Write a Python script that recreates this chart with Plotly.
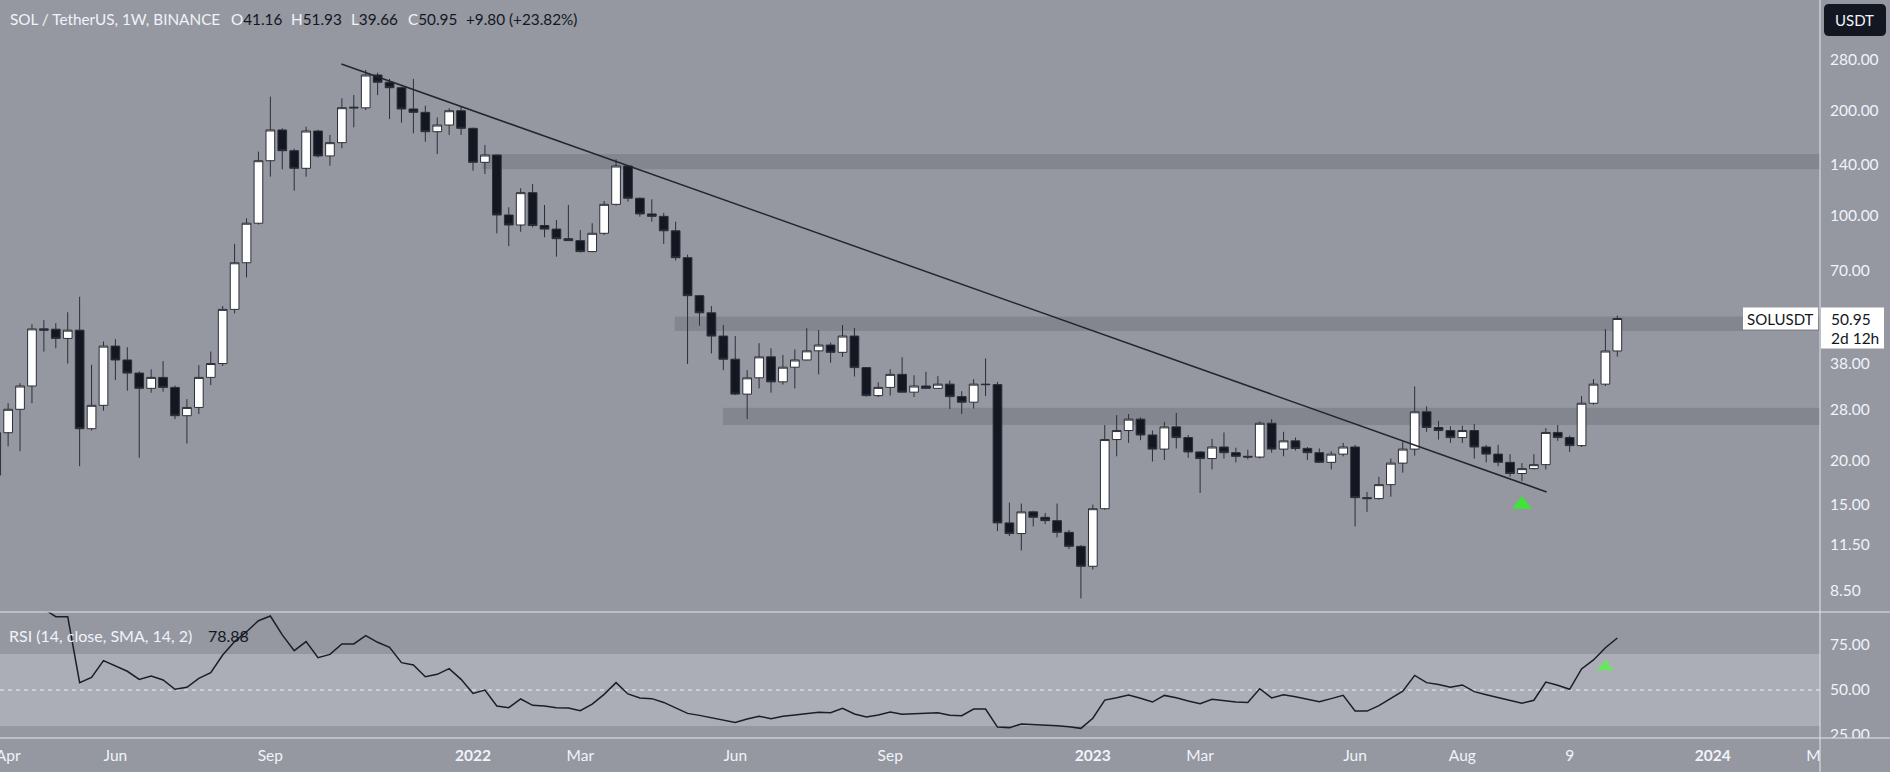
import math
import pandas as pd
import plotly.graph_objects as go

# ---------------- data ----------------
first_week = "2021-03-29"          # weekly candles, Monday starts

opens = [18.2, 24.06, 28.06, 32.7, 47.6, 47.5, 44.7, 47.2, 24.7, 28.8,
         42.5, 38.8, 35.6, 32.2, 34.6, 32.4, 26.9, 28.4, 34.6, 37.9,
         54.1, 73.5, 95.3, 143.7, 175.9, 153.5, 136.7, 174.7, 148.3, 161.8,
         204.3, 203.4, 252.4, 240.6, 232.2, 201.9, 197.5, 173.9, 181.7, 199.6,
         177.8, 142.2, 149.2, 100.6, 94.2, 116.5, 93.9, 91.7, 86.1, 85.0,
         79.1, 89.2, 107.9, 138.8, 112.3, 101.3, 99.7, 90.7, 76.0, 59.2,
         52.9, 45.4, 39.0, 31.0, 34.5, 39.6, 33.6, 37.0, 38.8, 41.2,
         42.8, 40.8, 45.4, 36.9, 30.7, 32.4, 35.3, 31.4, 32.7, 32.2,
         33.1, 30.5, 29.4, 33.1, 33.0, 13.3, 12.4, 14.3, 13.8, 13.5,
         12.5, 11.4, 10.0, 14.6, 23.0, 24.4, 26.3, 23.7, 21.6, 25.0,
         23.3, 21.2, 20.3, 21.9, 21.1, 20.6, 20.5, 25.6, 21.6, 22.8,
         21.7, 21.1, 19.8, 20.9, 21.9, 15.7, 15.6, 17.1, 19.7, 21.6,
         27.6, 24.9, 24.4, 23.3, 24.4, 21.9, 20.9, 19.8, 18.4, 19.0,
         19.5, 24.1, 23.3, 22.1, 29.2, 33.1, 41.16]

highs = [24.8, 29.2, 33.3, 49.1, 50.4, 49.4, 53.1, 58.8, 37.6, 43.8,
         44.5, 42.2, 36.0, 36.5, 38.5, 32.8, 30.0, 37.5, 41.0, 55.3,
         83.2, 98.4, 152.5, 218.9, 177.8, 155.5, 179.7, 176.0, 170.2, 216.6,
         221.3, 260.9, 256.3, 246.0, 234.0, 245.9, 206.3, 191.1, 202.8, 205.0,
         178.7, 159.3, 149.5, 105.8, 119.9, 123.3, 107.4, 97.3, 107.4, 91.1,
         95.3, 110.3, 145.1, 139.5, 113.0, 111.5, 102.0, 96.3, 77.5, 59.5,
         55.3, 48.8, 45.4, 36.3, 43.3, 41.9, 40.1, 41.6, 47.8, 47.2,
         43.5, 48.8, 47.9, 37.0, 33.5, 36.5, 39.5, 35.1, 35.9, 34.9,
         33.9, 31.6, 34.2, 39.2, 33.6, 15.2, 15.1, 14.4, 14.2, 15.1,
         12.7, 11.5, 15.0, 25.3, 27.0, 27.2, 26.6, 24.4, 25.8, 27.4,
         23.7, 21.3, 23.1, 24.1, 21.8, 21.5, 25.9, 26.3, 24.2, 23.3,
         21.9, 21.7, 21.3, 22.5, 22.2, 16.3, 18.0, 20.3, 22.7, 32.6,
         28.6, 26.0, 25.1, 25.2, 25.5, 22.2, 22.2, 20.9, 19.7, 20.9,
         24.8, 25.3, 23.6, 30.6, 34.2, 47.5, 51.93]

lows = [17.6, 22.0, 21.3, 29.2, 41.0, 41.9, 37.9, 19.3, 24.4, 27.8,
        34.0, 31.7, 20.4, 31.3, 31.5, 26.3, 22.4, 27.2, 32.9, 37.3,
        52.7, 66.8, 94.5, 129.4, 135.8, 118.0, 129.4, 146.7, 139.1, 156.0,
        179.0, 200.5, 221.3, 189.0, 184.5, 172.1, 162.8, 150.2, 170.2, 170.2,
        134.6, 131.7, 89.2, 82.0, 90.1, 92.8, 86.9, 76.5, 84.8, 78.6,
        78.8, 88.2, 107.0, 109.8, 99.5, 96.3, 83.2, 74.6, 37.8, 48.6,
        40.5, 36.3, 30.8, 26.3, 32.2, 31.3, 33.0, 32.2, 38.7, 35.3,
        38.1, 39.6, 34.8, 30.5, 30.4, 30.7, 31.3, 30.4, 32.1, 32.1,
        28.1, 27.2, 28.2, 30.6, 12.6, 12.2, 11.1, 13.0, 13.2, 12.1,
        11.2, 8.1, 9.8, 14.5, 20.6, 22.5, 22.9, 19.9, 20.1, 21.7,
        20.4, 16.2, 18.9, 20.3, 19.8, 20.2, 20.3, 21.1, 20.6, 21.4,
        20.1, 19.7, 18.9, 20.6, 13.0, 14.3, 15.5, 15.8, 18.5, 20.7,
        24.2, 23.0, 22.5, 22.5, 20.3, 19.8, 19.3, 18.0, 17.5, 18.9,
        18.9, 22.8, 21.2, 21.9, 28.9, 32.7, 39.66]

closes = [24.06, 28.06, 32.7, 47.6, 47.2, 44.7, 47.2, 24.7, 28.8, 42.5,
          38.8, 35.6, 32.2, 34.6, 32.4, 26.9, 28.4, 34.6, 37.9, 54.1,
          73.5, 95.3, 143.7, 175.9, 153.5, 136.7, 174.7, 148.3, 161.8, 203.6,
          203.4, 252.4, 240.6, 232.2, 201.9, 197.5, 173.9, 181.7, 199.6, 177.8,
          142.2, 149.2, 100.6, 94.2, 116.5, 93.9, 91.7, 86.1, 85.0, 79.1,
          89.2, 107.9, 138.8, 112.3, 101.3, 99.7, 90.7, 76.0, 59.2, 52.9,
          45.4, 39.0, 31.0, 34.5, 39.6, 33.6, 37.0, 38.8, 41.2, 42.8,
          40.8, 45.4, 36.9, 30.7, 32.4, 35.3, 31.4, 32.7, 32.2, 33.1,
          30.5, 29.4, 33.1, 33.0, 13.3, 12.4, 14.3, 13.8, 13.5, 12.5,
          11.4, 10.0, 14.6, 23.0, 24.4, 26.3, 23.7, 21.6, 25.0, 23.3,
          21.2, 20.3, 21.9, 21.1, 20.6, 20.5, 25.6, 21.6, 22.8, 21.7,
          21.1, 19.8, 20.9, 21.9, 15.7, 15.6, 17.1, 19.7, 21.6, 27.6,
          24.9, 24.4, 23.3, 24.4, 21.9, 20.9, 19.8, 18.4, 19.0, 19.5,
          24.1, 23.3, 22.1, 29.2, 33.1, 41.15, 50.95]

rsi = [98, 98, 98, 97, 95, 90.7, 90.7, 54.1, 57.0, 66.3,
       63.3, 60.4, 55.9, 57.8, 55.6, 50.4, 51.5, 56.5, 59.6, 69.4,
       76.9, 82.4, 88.5, 91.1, 80.6, 71.9, 76.9, 68.0, 69.8, 75.6,
       75.6, 80.2, 76.5, 73.7, 65.2, 63.9, 57.4, 58.7, 61.9, 55.9,
       48.1, 50.0, 41.1, 40.2, 45.0, 41.5, 41.1, 40.2, 40.0, 38.5,
       42.2, 47.6, 54.1, 47.8, 45.6, 45.2, 43.1, 40.0, 37.0, 35.9,
       34.6, 33.3, 31.9, 33.9, 35.4, 34.1, 35.4, 36.1, 37.0, 37.6,
       37.4, 39.8, 36.7, 35.0, 36.1, 37.8, 36.5, 36.9, 37.0, 37.4,
       36.0, 35.7, 39.4, 39.4, 29.4, 29.1, 31.1, 30.9, 30.7, 30.2,
       29.6, 28.7, 34.3, 44.4, 45.7, 47.2, 45.4, 43.3, 47.0, 45.7,
       43.9, 42.4, 44.8, 43.9, 43.3, 43.1, 50.7, 45.6, 47.4, 46.3,
       45.0, 43.5, 45.2, 47.0, 38.3, 38.3, 41.3, 45.4, 49.4, 58.1,
       54.1, 53.0, 51.5, 52.8, 49.1, 47.4, 45.7, 44.1, 42.6, 44.3,
       54.4, 52.6, 50.4, 61.7, 66.7, 73.5, 78.88]

# horizontal zones (price low, price high, start date)
zone_lows = [135.8, 46.9, 25.3]
zone_highs = [150.2, 51.6, 28.35]
zone_starts = ["2022-01-08 12:00", "2022-05-01 12:00", "2022-05-29 18:00"]

# descending trendline
trend_dates = ["2021-10-17 17:00", "2023-09-25 12:00"]
trend_prices = [271.4, 16.3]

# green signal markers
signal_price_date = ["2023-09-11"]
signal_price_value = [15.0]
signal_rsi_date = ["2023-10-30"]
signal_rsi_value = [62.9]

price_ticks = [280, 200, 140, 100, 70, 38, 28, 20, 15, 11.5, 8.5]
price_tick_text = ["280.00", "200.00", "140.00", "100.00", "70.00", "38.00",
                   "28.00", "20.00", "15.00", "11.50", "8.50"]
rsi_ticks = [25, 50, 75]
rsi_tick_text = ["25.00", "50.00", "75.00"]
x_tick_dates = ["2021-04-05", "2021-06-07", "2021-09-06", "2022-01-03",
                "2022-03-07", "2022-06-06", "2022-09-05", "2023-01-02",
                "2023-03-06", "2023-06-05", "2023-08-07", "2023-10-09",
                "2024-01-01", "2024-03-04"]
x_tick_text = ["Apr", "Jun", "Sep", "<b>2022</b>", "Mar", "Jun", "Sep",
               "<b>2023</b>", "Mar", "Jun", "Aug", "9", "<b>2024</b>", "Mar"]

header_symbol = "SOL / TetherUS, 1W, BINANCE"
header_ohlc_letters = ["O", "H", "L", "C"]
header_ohlc_values = ["41.16", "51.93", "39.66", "50.95"]
header_change = "+9.80 (+23.82%)"
rsi_title = "RSI (14, close, SMA, 14, 2)"
rsi_last = "78.88"
last_close = closes[-1]
countdown = "2d 12h"

# ---------------- layout geometry / style ----------------
W, H = 1890, 772
PLOT_W = 1820
PLOT_H = 738
SPLIT = 612
split_frac = (PLOT_H - SPLIT) / PLOT_H
price_range_log = [0.86956, 2.61615]
rsi_range = [23.333, 93.333]
x_range = ["2021-03-31 05:30", "2024-03-04 00:30"]

BG = "#9598a1"
ZONE = "#83868e"
BAND = "#abaeb6"
LIGHT = "#f0f3fa"
DARK = "#131722"
LINEC = "#e3e5ea"
FONT = "Lato"

dates = pd.date_range(first_week, periods=len(closes), freq="7D")


def pxx(x):
    return x / PLOT_W


def pxy(y):
    return (PLOT_H - y) / PLOT_H


def price_px(p):
    lo, hi = price_range_log
    return SPLIT * (hi - math.log10(p)) / (hi - lo)


fig = go.Figure()

fig.add_trace(go.Candlestick(
    x=dates, open=opens, high=highs, low=lows, close=closes,
    increasing=dict(fillcolor="#ffffff", line=dict(color="#2c2f38", width=1)),
    decreasing=dict(fillcolor="#131722", line=dict(color="#2c2f38", width=1)),
    whiskerwidth=0, xaxis="x", yaxis="y", hoverinfo="skip", showlegend=False))

fig.add_trace(go.Scatter(
    x=trend_dates, y=trend_prices, mode="lines", xaxis="x", yaxis="y",
    line=dict(color="#23262e", width=1.5), hoverinfo="skip", showlegend=False))

fig.add_trace(go.Scatter(
    x=signal_price_date, y=signal_price_value, mode="markers", xaxis="x", yaxis="y",
    marker=dict(symbol="triangle-up", size=17, color="#3fe33a", line=dict(width=0)),
    hoverinfo="skip", showlegend=False))

fig.add_trace(go.Scatter(
    x=dates, y=rsi, mode="lines", xaxis="x", yaxis="y2",
    line=dict(color="#1b1e26", width=1.5), hoverinfo="skip", showlegend=False))

fig.add_trace(go.Scatter(
    x=signal_rsi_date, y=signal_rsi_value, mode="markers", xaxis="x", yaxis="y2",
    marker=dict(symbol="triangle-up", size=15, color="#6ee363", line=dict(width=0)),
    hoverinfo="skip", showlegend=False))

shapes = []
for lo_, hi_, st in zip(zone_lows, zone_highs, zone_starts):
    shapes.append(dict(type="rect", xref="x", yref="y", x0=st, x1=x_range[1],
                       y0=lo_, y1=hi_, fillcolor=ZONE, line=dict(width=0),
                       layer="below"))
shapes.append(dict(type="rect", xref="paper", yref="y2", x0=0, x1=1, y0=30, y1=70,
                   fillcolor=BAND, line=dict(width=0), layer="below"))
shapes.append(dict(type="line", xref="paper", yref="y2", x0=0, x1=1, y0=50, y1=50,
                   line=dict(color="#eeeeee", width=1, dash="4px,4px"), layer="below"))
# cover below the RSI pane in the price-scale column (clips the 25.00 label)
shapes.append(dict(type="rect", xref="paper", yref="paper", x0=1, x1=pxx(W + 5),
                   y0=pxy(H + 5), y1=0, fillcolor=BG, line=dict(width=0), layer="above"))
# pane separators
shapes.append(dict(type="line", xref="paper", yref="paper", x0=0, x1=pxx(W),
                   y0=split_frac, y1=split_frac, line=dict(color=LINEC, width=1), layer="above"))
shapes.append(dict(type="line", xref="paper", yref="paper", x0=0, x1=pxx(W),
                   y0=0, y1=0, line=dict(color=LINEC, width=1), layer="above"))
shapes.append(dict(type="line", xref="paper", yref="paper", x0=1, x1=1,
                   y0=pxy(H + 5), y1=pxy(-5), line=dict(color=LINEC, width=1), layer="above"))

# USDT rounded box
bx0, bx1, by0, by1, r = 1824, 1886, 4, 36, 5
path = (f"M {pxx(bx0 + r)},{pxy(by0)} L {pxx(bx1 - r)},{pxy(by0)} "
        f"Q {pxx(bx1)},{pxy(by0)} {pxx(bx1)},{pxy(by0 + r)} "
        f"L {pxx(bx1)},{pxy(by1 - r)} Q {pxx(bx1)},{pxy(by1)} {pxx(bx1 - r)},{pxy(by1)} "
        f"L {pxx(bx0 + r)},{pxy(by1)} Q {pxx(bx0)},{pxy(by1)} {pxx(bx0)},{pxy(by1 - r)} "
        f"L {pxx(bx0)},{pxy(by0 + r)} Q {pxx(bx0)},{pxy(by0)} {pxx(bx0 + r)},{pxy(by0)} Z")
shapes.append(dict(type="path", xref="paper", yref="paper", path=path,
                   fillcolor=DARK, line=dict(width=0), layer="above"))

# last price tags
lvl = price_px(last_close)
shapes.append(dict(type="rect", xref="paper", yref="paper", x0=pxx(1743), x1=pxx(1818),
                   y0=pxy(lvl + 11), y1=pxy(lvl - 11), fillcolor="#ffffff",
                   line=dict(width=0), layer="above"))
shapes.append(dict(type="rect", xref="paper", yref="paper", x0=pxx(1821), x1=pxx(1884),
                   y0=pxy(lvl + 30), y1=pxy(lvl - 11), fillcolor="#ffffff",
                   line=dict(width=0), layer="above"))

ann = []


def text_at(x, y, txt, size=15.5, color=LIGHT, anchor="left"):
    ann.append(dict(xref="paper", yref="paper", x=pxx(x), y=pxy(y), text=txt,
                    showarrow=False, xanchor=anchor, yanchor="middle",
                    font=dict(family=FONT, size=size, color=color)))


HDR = 15.3
text_at(8, 19.5, header_symbol, size=HDR)
hx = [229, 289, 349, 406]
for x, l, v in zip(hx, header_ohlc_letters, header_ohlc_values):
    text_at(x, 19.5, f"{l}<span style='color:{DARK}'>{v}</span>", size=HDR)
text_at(464, 19.5, header_change, size=HDR, color=DARK)
text_at(7, 635, rsi_title, size=16)
text_at(206, 635, rsi_last, size=16, color=DARK)
text_at(1855, 20, "USDT", size=15, color=LIGHT, anchor="center")
text_at(1780.5, lvl, "SOLUSDT", size=15, color=DARK, anchor="center")
text_at(1829, lvl, f"{last_close:.2f}", size=15.5, color=DARK)
text_at(1829, lvl + 19.5, countdown, size=15.5, color=DARK)

fig.update_layout(
    width=W, height=H,
    margin=dict(l=0, r=W - PLOT_W, t=0, b=H - PLOT_H, autoexpand=False),
    paper_bgcolor=BG, plot_bgcolor=BG,
    boxgap=0.27, boxgroupgap=0,
    showlegend=False, hovermode=False,
    shapes=shapes, annotations=ann,
    xaxis=dict(type="date", range=x_range, domain=[0, 1], anchor="y2",
               showgrid=False, zeroline=False, showline=False, ticks="",
               tickvals=x_tick_dates, ticktext=x_tick_text,
               tickfont=dict(family=FONT, size=15.5, color=LIGHT),
               ticklabelstandoff=6, ticklabeloverflow="allow", automargin=False,
               rangeslider=dict(visible=False), fixedrange=True),
    yaxis=dict(type="log", range=price_range_log, domain=[split_frac, 1],
               anchor="x", side="right", showgrid=False, zeroline=False,
               showline=False, ticks="", tickvals=price_ticks, ticktext=price_tick_text,
               tickfont=dict(family=FONT, size=15.5, color=LIGHT),
               ticklabelstandoff=9, automargin=False, fixedrange=True),
    yaxis2=dict(range=rsi_range, domain=[0, split_frac], anchor="x", side="right",
                showgrid=False, zeroline=False, showline=False, ticks="",
                tickvals=rsi_ticks, ticktext=rsi_tick_text,
                tickfont=dict(family=FONT, size=15.5, color=LIGHT),
                ticklabelstandoff=9, automargin=False, fixedrange=True),
)

fig.write_html("out.html", config=dict(displayModeBar=False, staticPlot=True))
